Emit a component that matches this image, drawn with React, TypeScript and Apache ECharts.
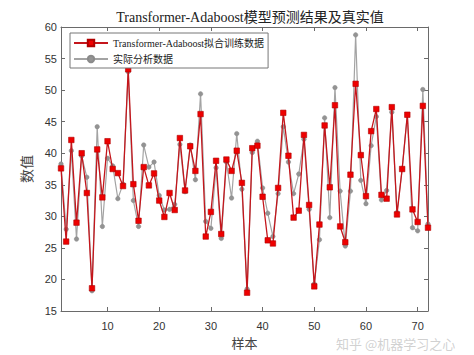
import React, { useEffect, useRef } from "react";
import * as echarts from "echarts";

const titleText = "Transformer-Adaboost模型预测结果及真实值";
const predName = "Transformer-Adaboost拟合训练数据";
const actualName = "实际分析数据";
const xName = "样本";
const yName = "数值";
const watermark = "知乎 @机器学习之心";

const predicted = [
  37.6, 26.0, 42.1, 29.0, 40.0, 33.7, 18.6, 40.6, 33.0, 41.9,
  37.5, 36.85, 34.8, 53.3, 35.1, 29.3, 37.8, 34.9, 36.8, 32.5,
  29.9, 33.7, 31.0, 42.4, 34.1, 41.1, 37.2, 46.2, 26.8, 30.7,
  38.8, 27.2, 39.0, 37.2, 40.4, 35.3, 17.9, 40.8, 41.2, 33.1,
  26.2, 25.7, 34.5, 46.4, 39.6, 29.8, 30.9, 42.9, 31.8, 18.9,
  28.7, 44.4, 34.6, 47.6, 28.4, 25.9, 36.6, 51.0, 39.7, 33.2,
  43.5, 47.0, 33.4, 32.8, 47.3, 30.3, 37.5, 46.1, 31.1, 29.1,
  47.5, 28.2,
];

const actual = [
  38.3, 27.95, 40.4, 26.4, 39.55, 36.2, 18.2, 44.2, 28.4, 39.2,
  38.0, 32.8, 35.1, 52.9, 32.5, 28.4, 41.3, 37.8, 38.6, 33.3,
  31.0, 31.1, 31.9, 41.4, 33.9, 41.3, 35.8, 49.4, 29.2, 28.1,
  37.7, 26.5, 38.6, 32.9, 43.1, 34.3, 18.5, 40.1, 41.9, 34.5,
  30.5, 26.8, 33.6, 44.2, 38.6, 33.6, 36.7, 42.2, 31.1, 19.3,
  26.3, 45.6, 29.8, 50.4, 34.0, 25.3, 34.0, 58.75, 35.7, 32.0,
  41.2, 45.8, 32.6, 34.1, 46.5, 30.6, 37.5, 46.1, 28.2, 27.7,
  50.1, 28.8,
];

const xTicks = [10, 20, 30, 40, 50, 60, 70];
const yMin = 15;
const yMax = 60;
const yStep = 5;

const sansFont = "'Liberation Sans', Arial, 'Noto Sans CJK SC', sans-serif";
const serifFont = "'Liberation Serif', 'Times New Roman', 'Noto Sans CJK SC', serif";
const axisColor = "#6a6a6a";

export default function App() {
  const ref = useRef<HTMLDivElement>(null);

  useEffect(() => {
    if (!ref.current) return;
    const chart = echarts.init(ref.current, undefined, { renderer: "svg" });
    const n = predicted.length;
    const predData = predicted.map((v, i) => [i + 1, v]);
    const actData = actual.map((v, i) => [i + 1, v]);

    const baseX = {
      type: "value" as const,
      min: 1,
      max: n,
      splitLine: { show: false },
      axisLine: { show: true, onZero: false, lineStyle: { color: axisColor, width: 1 } },
    };
    const baseY = {
      type: "value" as const,
      min: yMin,
      max: yMax,
      interval: yStep,
      splitLine: { show: false },
      axisLine: { show: true, onZero: false, lineStyle: { color: axisColor, width: 1 } },
    };

    chart.setOption({
      animation: false,
      backgroundColor: "#ffffff",
      title: {
        text: titleText,
        left: 245,
        textAlign: "center",
        top: 5,
        textStyle: {
          fontFamily: serifFont,
          fontSize: 14,
          fontWeight: "normal",
          color: "#222222",
        },
      },
      grid: { left: 61, right: 46, top: 27, bottom: 40, containLabel: false },
      legend: {
        left: 70,
        top: 33,
        orient: "vertical",
        backgroundColor: "#ffffff",
        borderColor: "#777777",
        borderWidth: 1,
        borderRadius: 0,
        padding: [5, 4, 4, 3],
        itemGap: 6,
        itemWidth: 34,
        itemHeight: 8,
        textStyle: { fontFamily: serifFont, fontSize: 10, color: "#222222" },
        data: [predName, actualName],
      },
      xAxis: [
        {
          ...baseX,
          position: "bottom",
          name: xName,
          nameLocation: "middle",
          nameGap: 26,
          nameTextStyle: { fontFamily: sansFont, fontSize: 13, color: "#444444" },
          axisTick: { show: true, inside: true, length: 4, customValues: xTicks, lineStyle: { color: axisColor } },
          axisLabel: { customValues: xTicks, margin: 9, fontFamily: sansFont, fontSize: 11, color: "#333333" },
        },
        {
          ...baseX,
          position: "top",
          axisTick: { show: true, inside: true, length: 4, customValues: xTicks, lineStyle: { color: axisColor } },
          axisLabel: { show: false },
        },
      ],
      yAxis: [
        {
          ...baseY,
          position: "left",
          name: yName,
          nameLocation: "middle",
          nameGap: 18,
          nameRotate: 90,
          nameTextStyle: { fontFamily: sansFont, fontSize: 14, color: "#444444" },
          axisTick: { show: true, inside: true, length: 4, lineStyle: { color: axisColor } },
          axisLabel: { margin: 4, fontFamily: sansFont, fontSize: 11, color: "#333333" },
        },
        {
          ...baseY,
          position: "right",
          axisTick: { show: true, inside: true, length: 4, lineStyle: { color: axisColor } },
          axisLabel: { show: false },
        },
      ],
      series: [
        {
          name: actualName,
          type: "line",
          data: actData,
          z: 2,
          symbol: "circle",
          symbolSize: 4.5,
          lineStyle: { color: "#a3a3a3", width: 1.2 },
          itemStyle: { color: "#939393", borderColor: "#8a8a8a", borderWidth: 0.5 },
        },
        {
          name: predName,
          type: "line",
          data: predData,
          z: 3,
          symbol: "rect",
          symbolSize: 5.5,
          lineStyle: { color: "#c4161c", width: 1.3 },
          itemStyle: { color: "#ee0000", borderColor: "#b00000", borderWidth: 0.6 },
        },
      ],
      graphic: [
        {
          type: "text",
          left: 336,
          top: 337,
          silent: true,
          style: {
            text: watermark,
            font: "13px 'Noto Sans CJK SC', sans-serif",
            fill: "rgba(170,170,170,0.55)",
          },
        },
      ],
    });

    return () => chart.dispose();
  }, []);

  return (
    <div
      ref={ref}
      style={{ position: "fixed", left: 0, top: 0, width: 474, height: 355, background: "#fff" }}
    />
  );
}
